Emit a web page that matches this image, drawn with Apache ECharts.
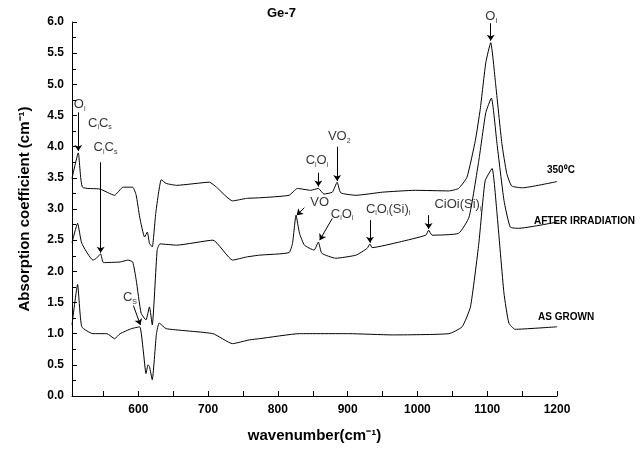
<!DOCTYPE html>
<html lang="en">
<head>
<meta charset="UTF-8">
<title>Ge-7</title>
<script src="https://cdn.jsdelivr.net/npm/echarts@6/dist/echarts.min.js"></script>
<style>
html,body{margin:0;padding:0;background:#fff}
#chartBox{width:640px;height:462px}
</style>
</head>
<body>
<div id="chartBox"></div>
<script>
// 350°C 曲线
const heated = [[505,3.49],[514,3.90],[520,3.35],[545,3.32],[566,3.22],[578,3.35],[592,3.35],[597,3.22],[602,2.87],[609,2.55],[613,2.63],[616,2.45],[620,2.39],[625,2.93],[633,3.47],[640,3.41],[655,3.38],[702,3.43],[712,3.35],[735,3.13],[755,3.17],[774,3.18],[816,3.22],[828,3.33],[847,3.30],[858,3.33],[866,3.24],[878,3.27],[885,3.43],[890,3.26],[912,3.22],[950,3.27],[997,3.30],[1045,3.29],[1059,3.33],[1071,3.51],[1083,4.10],[1090,4.60],[1098,5.35],[1105,5.67],[1112,5.01],[1121,4.05],[1128,3.57],[1135,3.37],[1150,3.34],[1200,3.44]];
// 辐照后曲线
const irradiated = [[505,2.46],[513,2.77],[519,2.45],[535,2.18],[540,2.21],[546,2.28],[550,2.14],[574,2.15],[585,2.18],[592,2.15],[597,1.86],[604,1.33],[611,1.22],[616,1.43],[620,1.14],[627,2.34],[631,2.44],[655,2.42],[707,2.50],[735,2.18],[755,2.23],[774,2.26],[816,2.30],[821,2.45],[826,2.90],[831,2.61],[838,2.42],[852,2.34],[858,2.47],[863,2.29],[883,2.21],[912,2.26],[928,2.37],[932,2.44],[935,2.38],[974,2.47],[1012,2.58],[1016,2.66],[1021,2.58],[1059,2.61],[1074,2.87],[1088,3.78],[1098,4.55],[1106,4.78],[1114,4.05],[1124,3.14],[1133,2.71],[1145,2.69],[1200,2.79]];
// 原始样品曲线
const asGrown = [[505,1.14],[513,1.79],[519,1.11],[535,1.00],[555,1.00],[566,0.92],[574,1.00],[590,1.08],[602,1.11],[607,0.74],[611,0.36],[614,0.50],[616,0.47],[620,0.26],[626,1.00],[630,1.17],[640,1.08],[707,1.00],[735,0.84],[759,0.90],[774,0.92],[831,1.00],[902,1.00],[964,0.98],[1045,1.00],[1064,1.11],[1076,1.43],[1088,2.45],[1097,3.45],[1107,3.65],[1114,2.93],[1124,1.65],[1131,1.17],[1140,1.07],[1200,1.11]];
// 标注箭头 [起点, 终点]
const arrows = [
  [[514,4.55],[514,3.93]],
  [[858,3.58],[858,3.36]],
  [[885,4.00],[885,3.45]],
  [[546,3.75],[546,2.30]],
  [[838,3.02],[827,2.90]],
  [[878,2.85],[860,2.50]],
  [[932,2.82],[932,2.46]],
  [[1016,2.90],[1016,2.68]],
  [[593,1.45],[603,1.14]],
  [[1105,5.98],[1105,5.70]]
];
// 标注文字
const notes = [
  [516,4.68,'{a|O}{s|i}'],
  [545,4.38,'{a|C}{s|i}{a|C}{s|s}'],
  [856,3.78,'{a|C}{s|i}{a|O}{s|i}'],
  [888,4.16,'{a|VO}{s|2}'],
  [553,3.98,'{a|C}{s|i}{a|C}{s|s}'],
  [860,3.10,'{a|VO}'],
  [892,2.92,'{a|C}{s|i}{a|O}{s|i}'],
  [958,3.00,'{a|C}{s|i}{a|O}{s|i}{a|(Si)}{s|i}'],
  [1058,3.07,'{a|CiOi(Si)}{s|i}'],
  [588,1.58,'{a|C}{s|S}'],
  [1106,6.09,'{a|O}{s|I}']
];
const xTicks = [600,700,800,900,1000,1100,1200];
const xMinorTicks = [550,600,650,700,750,800,850,900,950,1000,1050,1100,1150,1200];
const curveNames = ['350⁰C','AFTER IRRADIATION','AS GROWN'];

function curve(name, data){
    return {type:'line', name:name, data:data, symbol:'none', smooth:0.15,
        lineStyle:{color:'#000', width:1}, silent:true};
}

let chartObj = echarts.init(document.getElementById('chartBox'));
chartObj.setOption({
    animation:false,
    title:{text:'Ge-7', left:262, top:2, textStyle:{fontSize:13, fontWeight:'bold', fontFamily:'Liberation Sans', color:'#000'}},
    grid:{left:72, right:83, top:22, bottom:66},
    xAxis:{type:'value', min:505, max:1200,
        name:'wavenumber(cm⁻¹)', nameLocation:'middle', nameGap:32,
        nameTextStyle:{fontSize:15, fontWeight:'bold', fontFamily:'Liberation Sans', color:'#000'},
        axisLine:{lineStyle:{color:'#000'}},
        axisTick:{inside:true, length:5, customValues:xMinorTicks, lineStyle:{color:'#000'}},
        axisLabel:{customValues:xTicks, formatter:v=>String(v), fontSize:12, fontWeight:'bold', color:'#000', fontFamily:'Liberation Sans'},
        splitLine:{show:false}},
    yAxis:{type:'value', min:0, max:6, interval:0.5,
        name:'Absorption coefficient (cm⁻¹)', nameLocation:'middle', nameGap:40,
        nameTextStyle:{fontSize:15, fontWeight:'bold', fontFamily:'Liberation Sans', color:'#000'},
        axisLine:{show:true, lineStyle:{color:'#000'}},
        axisTick:{inside:true, length:5, lineStyle:{color:'#000'}},
        minorTick:{show:true, splitNumber:2, length:4, lineStyle:{color:'#000'}},
        axisLabel:{fontSize:12, fontWeight:'bold', color:'#000', fontFamily:'Liberation Sans', formatter:v=>v.toFixed(1)},
        splitLine:{show:false}},
    series:[
        curve(curveNames[0], heated),
        curve(curveNames[1], irradiated),
        curve(curveNames[2], asGrown),
        {type:'lines', coordinateSystem:'cartesian2d', silent:true,
            symbol:['none','arrow'], symbolSize:6,
            lineStyle:{color:'#000', width:1, opacity:1},
            data:arrows.map(a=>({coords:a}))},
        {type:'scatter', symbolSize:0, clip:false, silent:true,
            data:notes.map(n=>({value:[n[0],n[1]], label:{formatter:n[2]}})),
            label:{show:true, position:'inside', color:'#000',
                rich:{a:{fontSize:13, fontFamily:'Liberation Sans', color:'#000'},
                      s:{fontSize:7, fontFamily:'Liberation Sans', color:'#000', padding:[9,0,0,0]}}}}
    ],
    graphic:[
        {type:'text', left:547, top:165, style:{text:'350⁰C', font:'bold 10px Liberation Sans', fill:'#000'}},
        {type:'text', left:534, top:216, style:{text:'AFTER IRRADIATION', font:'bold 10px Liberation Sans', fill:'#000'}},
        {type:'text', left:538, top:312, style:{text:'AS GROWN', font:'bold 10px Liberation Sans', fill:'#000'}}
    ]
});
</script>
</body>
</html>
